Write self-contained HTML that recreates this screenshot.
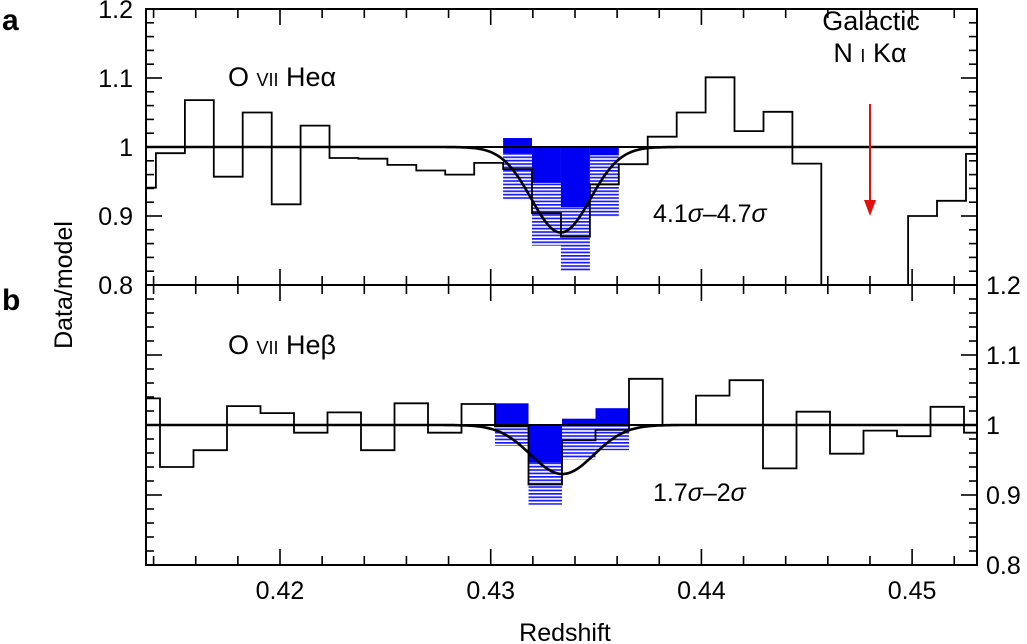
<!DOCTYPE html>
<html><head><meta charset="utf-8">
<style>
html,body{margin:0;padding:0;background:#fff;}
svg{display:block;font-family:"Liberation Sans",Arial,sans-serif;}
</style></head>
<body>
<svg id="chart" width="1027" height="644" viewBox="0 0 1027 644">
<defs>
<pattern id="hatch" patternUnits="userSpaceOnUse" width="8" height="3.4">
<rect x="0" y="0" width="8" height="1.7" fill="#1a1aff"/>
</pattern>
</defs>
<g id="layer"></g>
</svg>
<script>
// ---- data ----
const zTicks = [0.42, 0.43, 0.44, 0.45];
const zTickLabels = ["0.42", "0.43", "0.44", "0.45"];
const yTicks = [1.2, 1.1, 1.0, 0.9, 0.8];
const yTickLabels = ["1.2", "1.1", "1", "0.9", "0.8"];

const topBinStart = 0.412739;
const topBinWidth = 0.001373;
const topValues = [0.941,0.991,1.068,0.957,1.05,0.917,1.031,0.984,0.983,0.974,0.966,0.960,0.977,0.968,0.904,0.870,0.946,0.975,1.015,1.050,1.101,1.023,1.051,0.976,0.70,0.70,0.70,0.900,0.922,0.990];
const topErrBins = [13,14,15,16];
const topErrHi = [1.013,1.0,1.0,1.0];
const topErrMid = [0.99,0.948,0.913,0.988];
const topErrLo = [0.924,0.857,0.82,0.899];
const topModelCenter = 0.43333, topModelDepth = 0.124, topModelSigma = 0.00140;

const botBinStart = 0.412715;
const botBinWidth = 0.00159;
const botValues = [1.038,0.940,0.964,1.027,1.017,0.989,1.018,0.964,1.031,0.989,1.030,0.998,0.915,0.978,0.993,1.066,1.0,1.042,1.064,0.938,1.019,0.959,0.992,0.984,1.026,0.989];
const botErrBins = [11,12,13,14];
const botErrHi = [1.031,1.0,1.009,1.024];
const botErrMid = [1.0,0.946,1.0,0.999];
const botErrLo = [0.970,0.886,0.951,0.964];
const botModelCenter = 0.43340, botModelDepth = 0.07, botModelSigma = 0.00150;

// ---- geometry ----
const L = 146, R = 977, T = 9, M = 285, B = 565;
const zMin = 0.41364, zMax = 0.45308;
const X = z => L + (z - zMin) / (zMax - zMin) * (R - L);
const Yt = v => T + (1.2 - v) / 0.4 * (M - T);
const Yb = v => M + (1.2 - v) / 0.4 * (B - M);
const NS = "http://www.w3.org/2000/svg";
const layer = document.getElementById('layer');
function mk(tag, attrs, parent) {
  const e = document.createElementNS(NS, tag);
  for (const k in attrs) e.setAttribute(k, attrs[k]);
  (parent || layer).appendChild(e);
  return e;
}
const clipT = mk('clipPath', {id: 'clipT'}); mk('rect', {x: L, y: T, width: R - L, height: M - T}, clipT);
const clipB = mk('clipPath', {id: 'clipB'}); mk('rect', {x: L, y: M, width: R - L, height: B - M}, clipB);

function panel(Y, start, w, vals, eb, hi, mid, lo, mc, md, ms, clip, nm) {
  const g = mk('g', {'clip-path': 'url(#' + clip + ')'});
  
  
  eb.forEach((k, i) => {
    const x0 = X(start + k * w), x1 = X(start + (k + 1) * w);
    const s = mk('rect', {x: x0, y: Y(hi[i]), width: x1 - x0, height: Y(mid[i]) - Y(hi[i]), fill: '#0000f2'}, g);
    
    
    const h = mk('rect', {x: x0, y: Y(mid[i]), width: x1 - x0, height: Y(lo[i]) - Y(mid[i]), fill: 'url(#hatch)'}, g);
    
    
  });
  const ml = mk('line', {x1: L, x2: R, y1: Y(1), y2: Y(1), stroke: '#000', 'stroke-width': 2}, g);
  
  
  let d = '';
  vals.forEach((v, k) => {
    const x0 = X(start + k * w), x1 = X(start + (k + 1) * w);
    d += (k === 0 ? 'M' : 'L') + x0.toFixed(1) + ',' + Y(v).toFixed(1) + 'L' + x1.toFixed(1) + ',' + Y(v).toFixed(1);
  });
  const hp = mk('path', {d: d, fill: 'none', stroke: '#000', 'stroke-width': 1.8}, g);
  
  
  let md2 = '';
  for (let i = 0; i <= 400; i++) {
    const z = zMin + (zMax - zMin) * i / 400;
    const v = 1 - md * Math.exp(-0.5 * Math.pow((z - mc) / ms, 2));
    md2 += (i ? 'L' : 'M') + X(z).toFixed(1) + ',' + Y(v).toFixed(1);
  }
  const mp = mk('path', {d: md2, fill: 'none', stroke: '#000', 'stroke-width': 2.6}, g);
  
  
}
panel(Yt, topBinStart, topBinWidth, topValues, topErrBins, topErrHi, topErrMid, topErrLo, topModelCenter, topModelDepth, topModelSigma, 'clipT', 'panel-a');
panel(Yb, botBinStart, botBinWidth, botValues, botErrBins, botErrHi, botErrMid, botErrLo, botModelCenter, botModelDepth, botModelSigma, 'clipB', 'panel-b');

// frame
const fr = mk('rect', {x: L, y: T, width: R - L, height: B - T, fill: 'none', stroke: '#000', 'stroke-width': 2});


const mid = mk('line', {x1: L, x2: R, y1: M, y2: M, stroke: '#000', 'stroke-width': 2});



// ticks
const tk = mk('g', {stroke: '#000', 'stroke-width': 1.6});


for (let i = 0; i <= 20; i++) {
  const v = 1.2 - i * 0.02, major = i % 5 === 0, len = major ? 16 : 8;
  [Yt, Yb].forEach(Y => {
    const y = Y(v);
    mk('line', {x1: L, x2: L + len, y1: y, y2: y}, tk);
    mk('line', {x1: R, x2: R - len, y1: y, y2: y}, tk);
  });
}
for (let z = 0.414; z < zMax; z += 0.002) {
  const x = X(z), major = Math.abs(z * 100 - Math.round(z * 100)) < 1e-6, len = major ? 16 : 9;
  mk('line', {x1: x, x2: x, y1: T, y2: T + len}, tk);
  mk('line', {x1: x, x2: x, y1: M - len, y2: M + len}, tk);
  mk('line', {x1: x, x2: x, y1: B, y2: B - len}, tk);
}
// tick labels
yTicks.forEach((v, i) => {
  const a = mk('text', {x: 133, y: Yt(v) + 9, 'font-size': 25, 'text-anchor': 'end'});
  a.textContent = yTickLabels[i];
  
  
  const b = mk('text', {x: 986, y: Yb(v) + 9, 'font-size': 25, 'text-anchor': 'start'});
  b.textContent = yTickLabels[i];
  
  
});
zTicks.forEach((z, i) => {
  const t = mk('text', {x: X(z), y: 599, 'font-size': 25, 'text-anchor': 'middle'});
  t.textContent = zTickLabels[i];
  
  
});
</script>
<svg width="1027" height="644" style="position:absolute;left:0;top:0;font-family:'Liberation Sans',Arial,sans-serif">
<text x="2" y="30" font-size="30" font-weight="bold">a</text>
<text x="2" y="310" font-size="30" font-weight="bold">b</text>
<text transform="translate(72,285) rotate(-90)" font-size="25" text-anchor="middle">Data/model</text>
<text x="565" y="641" font-size="25" text-anchor="middle">Redshift</text>
<text x="228" y="86" font-size="27">O <tspan font-size="18">VII</tspan> Heα</text>
<text x="228" y="354" font-size="27">O <tspan font-size="18">VII</tspan> Heβ</text>
<text x="653" y="222" font-size="25">4.1<tspan font-style="italic">σ</tspan>–4.7<tspan font-style="italic">σ</tspan></text>
<text x="653" y="501" font-size="25">1.7<tspan font-style="italic">σ</tspan>–2<tspan font-style="italic">σ</tspan></text>
<text x="871" y="30" font-size="27" text-anchor="middle">Galactic</text>
<text x="870" y="62" font-size="27" text-anchor="middle">N <tspan font-size="18">I</tspan> Kα</text>
<line x1="870" y1="104" x2="870" y2="204" stroke="#e01010" stroke-width="2"/>
<polygon points="864,200 876,200 870,216" fill="#e01010"/>
</svg>
</body></html>
